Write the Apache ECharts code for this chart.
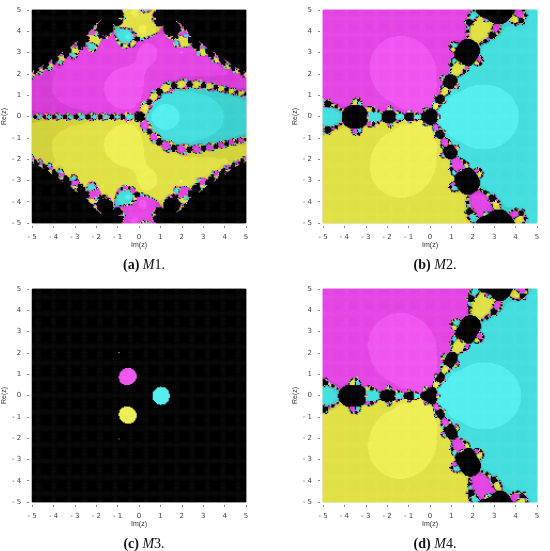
<!DOCTYPE html>
<html><head><meta charset="utf-8">
<script src="https://cdn.jsdelivr.net/npm/echarts@6/dist/echarts.min.js"></script>
<style>html,body{margin:0;background:#fff}#main{width:550px;height:551px}</style>
</head><body><div id="main"></div>
<script>
// axis ticks shared by all four panels
var tickValues = [-5, -4, -3, -2, -1, 0, 1, 2, 3, 4, 5];
var panelNames = ['(a)', '(b)', '(c)', '(d)'];
var methodNames = ['M1', 'M2', 'M3', 'M4'];
// per panel: scheme, its parameter, constant c of p(z)=z^3-c, escape radius, iteration limit
var schemes = ['steffensen', 'chebyshev', 'chebyshev', 'chebyshev'];
var params = [0.075, 0, 1.505, 0.05];
var constants = [1, 0.6, 1, 0.6];
var escapeR = [30, 5, 30, 5];
var iterLimit = [40, 40, 2, 40];
var N = 200;

function cmul(a, b){ return [a[0]*b[0]-a[1]*b[1], a[0]*b[1]+a[1]*b[0]]; }
function cdiv(a, b){ var d = b[0]*b[0]+b[1]*b[1]; return [(a[0]*b[0]+a[1]*b[1])/d, (a[1]*b[0]-a[0]*b[1])/d]; }
function makeStep(kind, prm, c){
  function f(z){ var z3 = cmul(cmul(z, z), z); return [z3[0]-c, z3[1]]; }
  if (kind === 'steffensen') return function(z){
    var fz = f(z);
    var w = [z[0]+prm*fz[0], z[1]+prm*fz[1]];
    var fw = f(w);
    var s = cdiv(cmul(fz, [prm*fz[0], prm*fz[1]]), [fw[0]-fz[0], fw[1]-fz[1]]);
    return [z[0]-s[0], z[1]-s[1]];
  };
  return function(z){
    var z2 = cmul(z, z), z3 = cmul(z2, z);
    var fz = [z3[0]-c, z3[1]];
    var u = cdiv(fz, [3*z2[0], 3*z2[1]]);
    var L = cdiv([2*fz[0], 2*fz[1]], [3*z3[0], 3*z3[1]]);
    var h = cdiv([0.5*L[0], 0.5*L[1]], [1-prm*L[0], -prm*L[1]]);
    var s = cmul([1+h[0], h[1]], u);
    return [z[0]-s[0], z[1]-s[1]];
  };
}

function basin(p){
  var step = makeStep(schemes[p], params[p], constants[p]), R = escapeR[p];
  var rho = Math.cbrt(constants[p]);
  var roots = [[rho, 0], [-0.5*rho, 0.8660254*rho], [-0.5*rho, -0.8660254*rho]]; // cyan, magenta, yellow
  var out = [];
  for (var j = 0; j < N; j++) {
    for (var i = 0; i < N; i++) {
      var z = [-5 + 10*(i+0.5)/N, -5 + 10*(j+0.5)/N];
      var code = 0;
      for (var n = 0; n < iterLimit[p]; n++) {
        z = step(z);
        if (!isFinite(z[0]) || !isFinite(z[1]) || z[0]*z[0]+z[1]*z[1] > R*R) break;
        var hit = -1;
        for (var r = 0; r < 3; r++) {
          var dx = z[0]-roots[r][0], dy = z[1]-roots[r][1];
          if (dx*dx+dy*dy < 1e-6) hit = r;
        }
        if (hit >= 0) { code = (hit+1)*10 + Math.min(3, Math.floor(n/4)); break; }
      }
      out.push([i, j, code]);
    }
  }
  return out;
}

var grids = [
  {left: 32, top: 10, width: 214, height: 213},
  {left: 323, top: 10, width: 214, height: 213},
  {left: 32, top: 289, width: 214, height: 213},
  {left: 323, top: 289, width: 214, height: 213}
];
var cats = [];
for (var k = 0; k < N; k++) cats.push(k);

var xAxes = [], yAxes = [], series = [], titles = [];
var lab = {color: '#444', fontSize: 7, fontFamily: 'DejaVu Sans', formatter: function(v){ return v < 0 ? '- ' + (-v) : '' + v; }};
grids.forEach(function(g, p){
  xAxes.push({gridIndex: p, type: 'category', data: cats, show: false});
  yAxes.push({gridIndex: p, type: 'category', data: cats, show: false});
  xAxes.push({gridIndex: p, type: 'value', min: -5, max: 5, interval: 1, position: 'bottom', offset: 3,
    name: 'Im(z)', nameLocation: 'middle', nameGap: 16, nameTextStyle: {fontSize: 7, color: '#333'},
    axisLine: {show: false}, axisTick: {show: true, length: 2, lineStyle: {color: '#888'}}, splitLine: {show: false}, axisLabel: lab});
  yAxes.push({gridIndex: p, type: 'value', min: -5, max: 5, interval: 1, position: 'left', offset: 3,
    name: 'Re(z)', nameLocation: 'middle', nameGap: 16, nameTextStyle: {fontSize: 7, color: '#333'},
    axisLine: {show: false}, axisTick: {show: true, length: 2, lineStyle: {color: '#888'}}, splitLine: {show: false}, axisLabel: lab});
  series.push({type: 'heatmap', xAxisIndex: 2*p, yAxisIndex: 2*p, data: basin(p), progressive: 0, emphasis: {disabled: true}});
  titles.push({text: '{b|' + panelNames[p] + '} {i|' + methodNames[p].charAt(0) + '}' + methodNames[p].slice(1) + '.',
    left: g.left + g.width/2, top: g.top + g.height + 30, textAlign: 'center',
    textStyle: {fontSize: 14, fontFamily: 'Liberation Serif', fontWeight: 'normal', color: '#111',
      rich: {b: {fontWeight: 'bold', fontSize: 14, fontFamily: 'Liberation Serif'}, i: {fontStyle: 'italic', fontSize: 14, fontFamily: 'Liberation Serif'}}}});
});

var pieces = [{value: 0, color: '#000000'}];
var shades = [
  ['#55eeee', '#44dede', '#3ccfcf', '#35c0c0'],
  ['#f055f0', '#e445e4', '#d63cd6', '#c535c5'],
  ['#eeee55', '#e0e045', '#d2d23c', '#c2c235']
];
for (var r = 0; r < 3; r++) for (var s = 0; s < 4; s++) pieces.push({value: (r+1)*10+s, color: shades[r][s]});

var chart = echarts.init(document.getElementById('main'));
chart.setOption({
  animation: false,
  title: titles,
  grid: grids.map(function(g){ return Object.assign({borderColor: '#ccc', borderWidth: 1, show: true}, g); }),
  xAxis: xAxes,
  yAxis: yAxes,
  visualMap: {type: 'piecewise', show: false, dimension: 2, pieces: pieces, seriesIndex: [0, 1, 2, 3]},
  series: series
});
</script></body></html>
